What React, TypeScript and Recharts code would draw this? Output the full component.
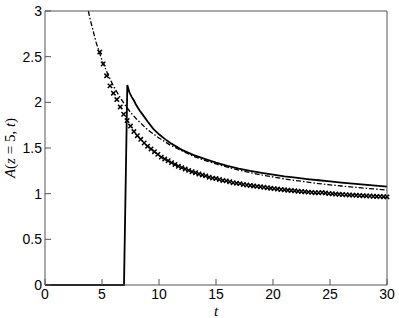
import { ComposedChart, Line, XAxis, YAxis } from 'recharts';

// x ticks / y ticks
const T_TICKS = [0, 5, 10, 15, 20, 25, 30];
const A_TICKS = [0, 0.5, 1, 1.5, 2, 2.5, 3];

// solid curve
const SOLID_T = [0, 3, 6.93, 7.22, 7.4, 7.6, 7.8, 8.0, 8.3, 8.6, 9.0, 9.5, 10, 10.5, 11, 12, 13, 14, 15, 16, 17, 18, 19, 20, 21, 22, 23, 24, 25, 26, 27, 28, 29, 30];
const SOLID_A = [0, 0, 0, 2.19, 2.11, 2.06, 2.02, 1.97, 1.91, 1.86, 1.79, 1.71, 1.65, 1.60, 1.555, 1.48, 1.425, 1.38, 1.34, 1.305, 1.275, 1.25, 1.228, 1.208, 1.19, 1.175, 1.16, 1.147, 1.134, 1.122, 1.111, 1.1, 1.089, 1.078];

// dash-dot curve
const DASH_T = [3.8, 4, 4.5, 5, 5.5, 6, 6.5, 7, 7.5, 8, 8.5, 9, 9.5, 10, 11, 12, 13, 14, 15, 16, 17, 18, 19, 20, 21, 22, 23, 24, 25, 26, 27, 28, 29, 30];
const DASH_A = [3.0, 2.89, 2.65, 2.46, 2.31, 2.18, 2.07, 1.975, 1.89, 1.82, 1.76, 1.70, 1.655, 1.61, 1.53, 1.47, 1.41, 1.365, 1.325, 1.29, 1.258, 1.23, 1.205, 1.183, 1.162, 1.144, 1.127, 1.111, 1.097, 1.084, 1.072, 1.061, 1.05, 1.04];

// x markers
const MARK_T = [
  4.8, 5.1, 5.4, 5.7, 6.0, 6.3, 6.6, 6.9, 7.2, 7.5, 7.8, 8.1, 8.4, 8.7, 9.0, 9.3, 9.6, 9.9,
  10.2, 10.5, 10.8, 11.1, 11.4, 11.7, 12.0, 12.3, 12.6, 12.9, 13.2, 13.5, 13.8, 14.1, 14.4, 14.7,
  15.0, 15.3, 15.6, 15.9, 16.2, 16.5, 16.8, 17.1, 17.4, 17.7, 18.0, 18.3, 18.6, 18.9, 19.2, 19.5,
  19.8, 20.1, 20.4, 20.7, 21.0, 21.3, 21.6, 21.9, 22.2, 22.5, 22.8, 23.1, 23.4, 23.7, 24.0, 24.3,
  24.6, 24.9, 25.2, 25.5, 25.8, 26.1, 26.4, 26.7, 27.0, 27.3, 27.6, 27.9, 28.2, 28.5, 28.8, 29.1,
  29.4, 29.7, 30.0,
];
const MARK_A = [
  2.55, 2.42, 2.29, 2.18, 2.10, 2.03, 1.95, 1.87, 1.80, 1.74, 1.68, 1.635, 1.595, 1.555, 1.52, 1.49, 1.46, 1.43,
  1.40, 1.38, 1.36, 1.34, 1.32, 1.30, 1.285, 1.27, 1.255, 1.24, 1.23, 1.215, 1.205, 1.195, 1.18, 1.17,
  1.165, 1.155, 1.145, 1.14, 1.13, 1.12, 1.115, 1.11, 1.10, 1.095, 1.09, 1.085, 1.08, 1.075, 1.07, 1.065,
  1.06, 1.055, 1.05, 1.046, 1.042, 1.038, 1.034, 1.031, 1.027, 1.024, 1.02, 1.017, 1.014, 1.011, 1.01, 1.012,
  1.008, 1.002, 0.998, 0.995, 0.993, 0.991, 0.988, 0.986, 0.984, 0.982, 0.98, 0.978, 0.976, 0.974, 0.972, 0.97,
  0.969, 0.967, 0.965,
];

const solid = SOLID_T.map((t, i) => ({ t, v: SOLID_A[i] }));
const dashDot = DASH_T.map((t, i) => ({ t, v: DASH_A[i] }));
const marks = MARK_T.map((t, i) => ({ t, v: MARK_A[i] }));

const FRAME = '#555';
const tickFont = { fontFamily: '"Liberation Sans", Arial, sans-serif', fontSize: 14, fill: '#000' };
const mathFont = '"Liberation Serif", "DejaVu Serif", serif';

const XMark = (props: any) => {
  const { cx, cy, index } = props;
  if (cx == null || cy == null) return null;
  const s = 2.2;
  return (
    <path
      key={`m${index}`}
      d={`M${cx - s},${cy - s}L${cx + s},${cy + s}M${cx - s},${cy + s}L${cx + s},${cy - s}`}
      stroke="#000"
      strokeWidth={1.5}
      fill="none"
    />
  );
};

const YTitle = (props: any) => {
  const { viewBox } = props;
  const x = viewBox.x + 10;
  const y = viewBox.y + viewBox.height / 2;
  return (
    <text
      x={x}
      y={y}
      transform={`rotate(-90, ${x}, ${y})`}
      textAnchor="middle"
      dominantBaseline="central"
      fontFamily={mathFont}
      fontSize={15}
      fill="#000"
    >
      <tspan fontStyle="italic">A</tspan>
      <tspan>(</tspan>
      <tspan fontStyle="italic">z</tspan>
      <tspan> = 5, </tspan>
      <tspan fontStyle="italic">t</tspan>
      <tspan>)</tspan>
    </text>
  );
};

const XTitle = (props: any) => {
  const { viewBox } = props;
  return (
    <text
      x={viewBox.x + viewBox.width / 2}
      y={viewBox.y + viewBox.height - 2}
      textAnchor="middle"
      fontFamily={mathFont}
      fontStyle="italic"
      fontSize={15}
      fill="#000"
    >
      t
    </text>
  );
};

export default function App() {
  return (
    <div style={{ position: 'absolute', left: 0, top: 0, width: 399, height: 318, background: '#fff' }}>
      <ComposedChart width={399} height={318} margin={{ top: 10, right: 11, bottom: 0, left: 0 }}>
        <XAxis
          dataKey="t"
          type="number"
          domain={[0, 30]}
          ticks={T_TICKS}
          height={33}
          tickSize={-6}
          tickMargin={10}
          tick={tickFont}
          axisLine={{ stroke: FRAME }}
          tickLine={{ stroke: FRAME }}
          label={<XTitle />}
        />
        <XAxis
          xAxisId="top"
          orientation="top"
          dataKey="t"
          type="number"
          domain={[0, 30]}
          ticks={T_TICKS}
          height={1}
          tickSize={-6}
          tick={false}
          axisLine={{ stroke: FRAME }}
          tickLine={{ stroke: FRAME }}
        />
        <YAxis
          type="number"
          domain={[0, 3]}
          ticks={A_TICKS}
          width={45}
          tickSize={-6}
          tickMargin={9}
          tick={tickFont}
          axisLine={{ stroke: FRAME }}
          tickLine={{ stroke: FRAME }}
          label={<YTitle />}
        />
        <YAxis
          yAxisId="right"
          orientation="right"
          type="number"
          domain={[0, 3]}
          ticks={A_TICKS}
          width={1}
          tickSize={-6}
          tick={false}
          axisLine={{ stroke: FRAME }}
          tickLine={{ stroke: FRAME }}
        />
        {/* invisible copy so the top/right frame axes get their ticks */}
        <Line
          xAxisId="top"
          yAxisId="right"
          data={solid}
          dataKey="v"
          stroke="none"
          dot={false}
          activeDot={false}
          isAnimationActive={false}
        />
        <Line
          data={marks}
          dataKey="v"
          stroke="none"
          dot={XMark}
          activeDot={false}
          isAnimationActive={false}
        />
        <Line
          data={dashDot}
          dataKey="v"
          type="linear"
          stroke="#000"
          strokeWidth={1.3}
          strokeDasharray="5 2 1.5 2"
          dot={false}
          activeDot={false}
          isAnimationActive={false}
        />
        <Line
          data={solid}
          dataKey="v"
          type="linear"
          stroke="#000"
          strokeWidth={1.8}
          dot={false}
          activeDot={false}
          isAnimationActive={false}
        />
      </ComposedChart>
    </div>
  );
}
